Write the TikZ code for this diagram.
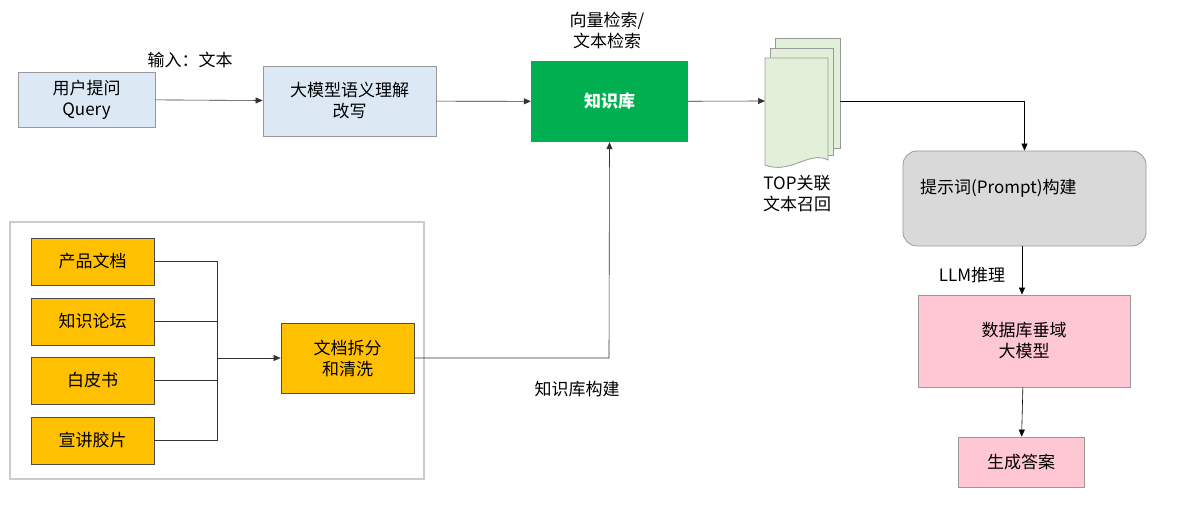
\documentclass[tikz,border=0pt]{standalone}
\usepackage{fontspec}
\setmainfont{Noto Sans CJK SC}
\usetikzlibrary{arrows.meta}
\definecolor{lb}{HTML}{DCE9F5}
\definecolor{gr}{HTML}{00B050}
\definecolor{lg}{HTML}{E2F0D9}
\definecolor{pk}{HTML}{FFC7D4}
\definecolor{og}{HTML}{FFC000}
\definecolor{nv}{HTML}{1F1F6F}
\begin{document}
\begin{tikzpicture}[x=1pt,y=-1pt,
 every node/.style={font=\fontsize{17}{21}\selectfont, align=center, inner sep=0pt},
 box/.style={draw=gray!80, line width=0.8pt},
 ob/.style={draw=black!70, fill=og, line width=0.8pt},
 arr/.style={-{Triangle[length=7pt,width=6pt]}, nv, line width=0.6pt, draw=black!80},
 ln/.style={draw=black!80, line width=0.6pt}]
\useasboundingbox (0,0) rectangle (1186,529);
\node[box, fill=lb, minimum width=137pt, minimum height=55pt] (q) at (86.5,99.5) {用户提问\\Query};
\node (in) at (190,60) {输入：文本};
\node[box, fill=lb, minimum width=173pt, minimum height=70pt] (rw) at (349.5,101) {大模型语义理解\\改写};
\node[fill=gr, text=white, font=\fontsize{17}{21}\selectfont\bfseries, minimum width=157pt, minimum height=81pt] (kb) at (609.5,101.5) {知识库};
\node (vs) at (607,30) {向量检索/\\文本检索};
% documents
\foreach \o in {10,5,0}{
 \draw[box, fill=lg] (775+\o,38+0-\o*0+\o*-1+\o) ++(0,0) ;
}
\draw[box, fill=lg] (775,38) rectangle (840,148);
\draw[box, fill=lg] (770,48) rectangle (833,155);
\draw[box, fill=lg] (765,58) -- (828,58) -- (828,160) .. controls (810,150) and (790,175) .. (765,165) -- cycle;
\coordinate (din) at (765,101);
\coordinate (dout) at (840,101);
\node (top) at (797,194) {TOP关联\\文本召回};
\node[box, fill=gray!30, rounded corners=14pt, minimum width=243pt, minimum height=95pt] (pr) at (1024.5,198.5) {};
\node[anchor=west] (prt) at (920,188) {提示词(Prompt)构建};
\node (llm) at (972,275) {LLM推理};
\node[box, fill=pk, minimum width=212pt, minimum height=92pt] (db) at (1024,341) {数据库垂域\\大模型};
\node[box, fill=pk, minimum width=126pt, minimum height=50pt] (ans) at (1021,462) {生成答案};
\draw[draw=gray!40, line width=1.2pt] (10,222) rectangle (424,479);
\node[ob, minimum width=123pt, minimum height=47pt] (d1) at (92.5,261.5) {产品文档};
\node[ob, minimum width=123pt, minimum height=47pt] (d2) at (92.5,321.5) {知识论坛};
\node[ob, minimum width=123pt, minimum height=47pt] (d3) at (92.5,380.5) {白皮书};
\node[ob, minimum width=123pt, minimum height=47pt] (d4) at (92.5,440.5) {宣讲胶片};
\node[ob, minimum width=133pt, minimum height=70pt] (sp) at (347.5,358) {文档拆分\\和清洗};
\node (kbb) at (577,389) {知识库构建};
\draw[arr] (q) -- (rw);
\draw[arr] (rw) -- (kb);
\draw[arr] (kb) -- (din);
\draw[ln, -{Triangle[length=7pt,width=6pt]}, black] (dout) -| (pr);
\draw[ln, -{Triangle[length=7pt,width=6pt]}, black] (1022,246) -- (db.north -| 1022,0);
\draw[ln, -{Triangle[length=7pt,width=6pt]}, black] (db) -- (ans);
\foreach \d in {d1,d2,d3,d4}{\draw[ln] (\d.east) -- (217,0 |- \d.east);}
\draw[ln] (217,261.5) -- (217,440.5);
\draw[arr] (217,358) -- (sp.west);
\draw[arr] (sp.east) -- (609,358) -- (kb.south);
\end{tikzpicture}
\end{document}
